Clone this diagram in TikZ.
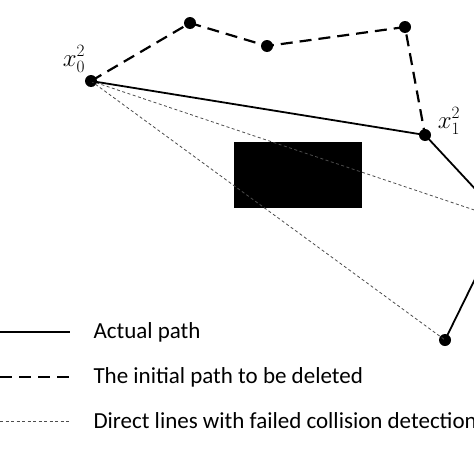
\documentclass[tikz,border=0pt]{standalone}
\usepackage{fontspec}
\setmainfont{Carlito}
\usetikzlibrary{positioning}
\tikzset{
pt/.style={circle, fill=black, inner sep=0pt, minimum size=12pt}, % the waypoints
actual/.style={line width=1.8pt}, % the path that is flown
initial/.style={line width=2.2pt, dash pattern=on 12pt off 7pt}, % the path to be deleted
direct/.style={line width=0.8pt, gray!60!black, dash pattern=on 3pt off 2.5pt}, % failed direct lines
legtext/.style={anchor=west, font=\fontsize{23}{26}\selectfont}, % legend texts
ptlabel/.style={inner sep=0pt, font=\fontsize{25}{28}\selectfont}, % labels of the waypoints
}
\begin{document}
\begin{tikzpicture}[x=1pt, y=-1pt]
\useasboundingbox (0,0) rectangle (474,474);
\clip (0,0) rectangle (474,474);

% obstacle
\fill (234,142) rectangle (362,208);

% waypoints
\node[pt] (x0) at (91,81) {};
\node[pt] (a) at (190,23) {};
\node[pt] (b) at (267,46) {};
\node[pt] (c) at (405,27) {};
\node[pt] (x1) at (425,135) {};
\coordinate (x2) at (504,220);
\node[pt] (x3) at (445,340) {};

\node[ptlabel] (l0) at ([xshift=-17pt, yshift=22pt]x0) {$x_0^2$};
\node[ptlabel] (l1) at ([xshift=24pt, yshift=14pt]x1) {$x_1^2$};

\draw[direct] (x0.center) -- (x2) (x0.center) -- (x3.center);
\draw[initial] (x0.center) -- (a.center) -- (b.center) -- (c.center) -- (x1.center);
\draw[actual] (x0.center) -- (x1.center) -- (x2) -- (x3.center);

% legend
\coordinate (s1) at (0,332);
\coordinate (e1) at (70,332);
\coordinate (s2) at (0,377);
\coordinate (e2) at (70,377);
\coordinate (s3) at (0,421);
\coordinate (e3) at (70,421);
\draw[actual] (s1) -- (e1);
\draw[initial] (s2) -- (e2);
\draw[direct] (s3) -- (e3);
\node[legtext, right=20pt of e1] (t1) {Actual path};
\node[legtext, right=20pt of e2] (t2) {The initial path to be deleted};
\node[legtext, right=20pt of e3] (t3) {Direct lines with failed collision detection};
\end{tikzpicture}
\end{document}
